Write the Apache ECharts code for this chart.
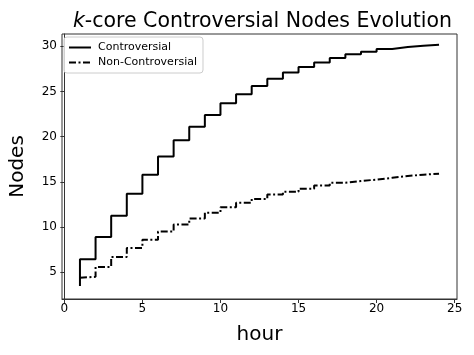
<!DOCTYPE html>
<html>
<head>
<meta charset="utf-8">
<script src="https://cdn.jsdelivr.net/npm/echarts@6/dist/echarts.min.js"></script>
<style>html,body{margin:0;padding:0;background:#fff}#c{width:474px;height:355px}</style>
</head>
<body>
<div id="c"></div>
<script>
var hours = [1,2,3,4,5,6,7,8,9,10,11,12,13,14,15,16,17,18,19,20,21,22,23,24];
var controversial = [3.5,6.45,8.9,11.25,13.7,15.8,17.8,19.6,21.1,22.4,23.7,24.7,25.6,26.4,27.1,27.7,28.2,28.7,29.1,29.4,29.7,29.9,30.05,30.15];
var nonControversial = [4.4,4.5,5.6,6.7,7.7,8.6,9.5,10.3,10.95,11.6,12.2,12.7,13.1,13.6,13.9,14.25,14.6,14.9,15.1,15.25,15.45,15.65,15.8,15.9];
var xTicks = [0,5,10,15,20,25];
var yTicks = [5,10,15,20,25,30];

function pairs(xs, ys){ return xs.map(function(x,i){ return [x, ys[i]]; }); }
var FONT = 'DejaVu Sans';
var chart = echarts.init(document.getElementById('c'), null, {renderer:'canvas'});
chart.setOption({
  animation:false,
  backgroundColor:'#fff',
  textStyle:{fontFamily:FONT},
  title:{
    text:'{i|k}-core Controversial Nodes Evolution',
    left:257.5, top:6, textAlign:'center',
    textStyle:{fontFamily:FONT, fontSize:20.5, fontWeight:'normal', color:'#000',
      rich:{i:{fontFamily:FONT, fontSize:20.5, fontStyle:'italic', color:'#000'}}}
  },
  legend:{
    orient:'vertical', left:64, top:37,
    padding:[5,6,5,4], itemGap:4, itemWidth:22, itemHeight:12,
    borderColor:'#ccc', borderWidth:1, borderRadius:3,
    backgroundColor:'rgba(255,255,255,0.8)',
    itemStyle:{opacity:0},
    lineStyle:{width:2},
    textStyle:{fontFamily:FONT, fontSize:11, color:'#000', padding:[0,0,0,2]},
    data:['Controversial','Non-Controversial']
  },
  grid:{left:59, right:17, top:34, bottom:56, show:true, borderColor:'#333', borderWidth:1, backgroundColor:'transparent'},
  xAxis:{
    type:'value', min:-0.15, max:25.15,
    name:'hour', nameLocation:'middle', nameGap:26,
    nameTextStyle:{fontFamily:FONT, fontSize:20, color:'#000'},
    axisLine:{show:true, lineStyle:{color:'#333', width:1}},
    axisTick:{show:true, inside:false, length:4, customValues:xTicks, lineStyle:{color:'#333'}},
    axisLabel:{customValues:xTicks, fontFamily:FONT, fontSize:12, color:'#000', margin:4},
    splitLine:{show:false}
  },
  yAxis:{
    type:'value', min:2.05, max:31.35,
    name:'Nodes', nameLocation:'middle', nameGap:34, nameRotate:90,
    nameTextStyle:{fontFamily:FONT, fontSize:20, color:'#000'},
    axisLine:{show:true, lineStyle:{color:'#333', width:1}},
    axisTick:{show:true, inside:false, length:4, customValues:yTicks, lineStyle:{color:'#333'}},
    axisLabel:{customValues:yTicks, fontFamily:FONT, fontSize:12, color:'#000', margin:5},
    splitLine:{show:false}
  },
  series:[
    {name:'Controversial', type:'line', step:'start', symbol:'none', showSymbol:false,
     data:pairs(hours, controversial),
     lineStyle:{color:'#000', width:2, type:'solid'}, itemStyle:{color:'#000'}},
    {name:'Non-Controversial', type:'line', step:'start', symbol:'none', showSymbol:false,
     data:pairs(hours, nonControversial),
     lineStyle:{color:'#000', width:2, type:[7,2.5,2,2.5]}, itemStyle:{color:'#000'}}
  ]
});
</script>
</body>
</html>
